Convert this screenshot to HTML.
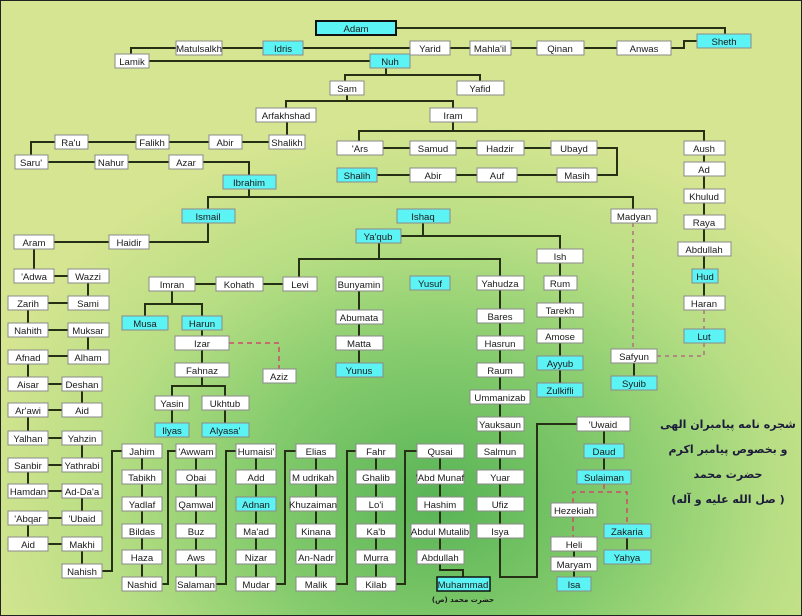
<!DOCTYPE html>
<html><head><meta charset="utf-8"><style>
html,body{margin:0;padding:0}
body{width:802px;height:616px;overflow:hidden;position:relative;
background:radial-gradient(ellipse 480px 380px at 440px 500px,#58b455 0%,#86cc6e 40%,#b8de84 70%,#d6e591 100%);}
svg{position:absolute;left:0;top:0}
.b rect{fill:#fff;stroke:#8a8a8a;stroke-width:1}
.b rect.c{fill:#5cf3f4}
.b text{font-family:"Liberation Sans",sans-serif;font-size:9.6px;fill:#1a1a1a;text-anchor:middle}
.fa{position:absolute;left:652px;top:412px;width:152px;text-align:center;font-family:"DejaVu Sans",sans-serif;font-weight:bold;font-size:11px;line-height:25px;color:#1c1c3a;direction:rtl;white-space:nowrap}
</style></head><body>
<svg width="802" height="616" viewBox="0 0 802 616">
<rect x="0.5" y="0.5" width="801" height="615" fill="none" stroke="#222" stroke-width="1"/>
<g fill="none" stroke="#263014" stroke-width="2">
<path d="M396 28H725V34"/>
<path d="M697 41H684V48H131V54"/>
<path d="M149 61H370"/>
<path d="M386 68V75M345 81V75H480V81"/>
<path d="M347 95V101M286 108V101H453V108"/>
<path d="M287 122V135M269 142H31V155"/>
<path d="M48 162H249V175"/>
<path d="M453 122V131M359 141V131H704V141"/>
<path d="M383 148H617V175H337"/>
<path d="M704 155V296"/>
<path d="M249 189V197M208 209V197H633V209"/>
<path d="M634 363V376"/>
<path d="M208 223V242H54"/>
<path d="M34 249V276H88V303H28V330H88V356H28V384H82V410H28V438H82V465H28V491H82V518H28V544H82V571H112V451H122"/>
<path d="M423 223V236M401 236H560V249"/>
<path d="M379 243V259M299 277V259H500V276"/>
<path d="M283 284H195"/>
<path d="M172 291V304M145 316V304H202V316M202 330V363M202 377V386M172 396V386H225V396M172 410V423M225 410V423"/>
<path d="M359 291V363"/>
<path d="M500 290V577H537V424H577"/>
<path d="M560 263V383"/>
<path d="M604 431V484"/>
<path d="M574 551V577M627 538V550"/>
<path d="M142 458V577M162 584H168V451H176"/>
<path d="M196 458V577M216 584H226V451H236"/>
<path d="M256 458V577M276 584H285V451H296"/>
<path d="M316 458V577M336 584H347V451H356"/>
<path d="M376 458V577M396 584H405V451H417"/>
<path d="M440 458V570H463V577"/>
</g>
<g fill="none" stroke="#d04a6a" stroke-width="1.5" stroke-dasharray="5,4">
<path d="M229 343H279V369"/>
<path d="M604 484V492M573 503V492H627V524M573 517V537"/>
</g>
<g fill="none" stroke="#b07080" stroke-width="1.5" stroke-dasharray="4,4">
<path d="M704 310V329M657 356H704V343"/>
<path d="M633 223V349"/>
</g>
<g class="b">
<rect x="316" y="21" width="80" height="14" class="c" style="stroke:#111;stroke-width:2"/><text x="356" y="32">Adam</text>
<rect x="176" y="41" width="46" height="14"/><text x="199" y="52">Matulsalkh</text>
<rect x="263" y="41" width="40" height="14" class="c"/><text x="283" y="52">Idris</text>
<rect x="115" y="54" width="34" height="14"/><text x="132" y="65">Lamik</text>
<rect x="370" y="54" width="40" height="14" class="c"/><text x="390" y="65">Nuh</text>
<rect x="410" y="41" width="40" height="14"/><text x="430" y="52">Yarid</text>
<rect x="470" y="41" width="41" height="14"/><text x="490" y="52">Mahla'il</text>
<rect x="537" y="41" width="47" height="14"/><text x="560" y="52">Qinan</text>
<rect x="617" y="41" width="54" height="14"/><text x="644" y="52">Anwas</text>
<rect x="697" y="34" width="54" height="14" class="c"/><text x="724" y="45">Sheth</text>
<rect x="330" y="81" width="34" height="14"/><text x="347" y="92">Sam</text>
<rect x="457" y="81" width="47" height="14"/><text x="480" y="92">Yafid</text>
<rect x="256" y="108" width="60" height="14"/><text x="286" y="119">Arfakhshad</text>
<rect x="430" y="108" width="47" height="14"/><text x="453" y="119">Iram</text>
<rect x="55" y="135" width="33" height="14"/><text x="71" y="146">Ra'u</text>
<rect x="136" y="135" width="33" height="14"/><text x="152" y="146">Falikh</text>
<rect x="209" y="135" width="33" height="14"/><text x="225" y="146">Abir</text>
<rect x="269" y="135" width="36" height="14"/><text x="287" y="146">Shalikh</text>
<rect x="15" y="155" width="33" height="14"/><text x="31" y="166">Saru'</text>
<rect x="95" y="155" width="33" height="14"/><text x="111" y="166">Nahur</text>
<rect x="169" y="155" width="34" height="14"/><text x="186" y="166">Azar</text>
<rect x="223" y="175" width="53" height="14" class="c"/><text x="249" y="186">Ibrahim</text>
<rect x="337" y="141" width="46" height="14"/><text x="360" y="152">'Ars</text>
<rect x="410" y="141" width="46" height="14"/><text x="433" y="152">Samud</text>
<rect x="477" y="141" width="47" height="14"/><text x="500" y="152">Hadzir</text>
<rect x="551" y="141" width="46" height="14"/><text x="574" y="152">Ubayd</text>
<rect x="337" y="168" width="40" height="14" class="c"/><text x="357" y="179">Shalih</text>
<rect x="410" y="168" width="46" height="14"/><text x="433" y="179">Abir</text>
<rect x="477" y="168" width="40" height="14"/><text x="497" y="179">Auf</text>
<rect x="557" y="168" width="40" height="14"/><text x="577" y="179">Masih</text>
<rect x="684" y="141" width="41" height="14"/><text x="704" y="152">Aush</text>
<rect x="684" y="162" width="41" height="14"/><text x="704" y="173">Ad</text>
<rect x="684" y="189" width="41" height="14"/><text x="704" y="200">Khulud</text>
<rect x="684" y="215" width="41" height="14"/><text x="704" y="226">Raya</text>
<rect x="678" y="242" width="53" height="14"/><text x="704" y="253">Abdullah</text>
<rect x="692" y="269" width="26" height="14" class="c"/><text x="705" y="280">Hud</text>
<rect x="684" y="296" width="41" height="14"/><text x="704" y="307">Haran</text>
<rect x="684" y="329" width="41" height="14" class="c"/><text x="704" y="340">Lut</text>
<rect x="611" y="209" width="46" height="14"/><text x="634" y="220">Madyan</text>
<rect x="611" y="349" width="46" height="14"/><text x="634" y="360">Safyun</text>
<rect x="611" y="376" width="46" height="14" class="c"/><text x="634" y="387">Syuib</text>
<rect x="182" y="209" width="53" height="14" class="c"/><text x="208" y="220">Ismail</text>
<rect x="397" y="209" width="53" height="14" class="c"/><text x="423" y="220">Ishaq</text>
<rect x="14" y="235" width="40" height="14"/><text x="34" y="246">Aram</text>
<rect x="109" y="235" width="40" height="14"/><text x="129" y="246">Haidir</text>
<rect x="356" y="229" width="45" height="14" class="c"/><text x="378" y="240">Ya'qub</text>
<rect x="537" y="249" width="46" height="14"/><text x="560" y="260">Ish</text>
<rect x="149" y="277" width="46" height="14"/><text x="172" y="288">Imran</text>
<rect x="216" y="277" width="47" height="14"/><text x="239" y="288">Kohath</text>
<rect x="283" y="277" width="34" height="14"/><text x="300" y="288">Levi</text>
<rect x="336" y="277" width="47" height="14"/><text x="359" y="288">Bunyamin</text>
<rect x="410" y="276" width="40" height="14" class="c"/><text x="430" y="287">Yusuf</text>
<rect x="477" y="276" width="47" height="14"/><text x="500" y="287">Yahudza</text>
<rect x="122" y="316" width="46" height="14" class="c"/><text x="145" y="327">Musa</text>
<rect x="182" y="316" width="40" height="14" class="c"/><text x="202" y="327">Harun</text>
<rect x="175" y="336" width="54" height="14"/><text x="202" y="347">Izar</text>
<rect x="263" y="369" width="33" height="14"/><text x="279" y="380">Aziz</text>
<rect x="175" y="363" width="54" height="14"/><text x="202" y="374">Fahnaz</text>
<rect x="155" y="396" width="34" height="14"/><text x="172" y="407">Yasin</text>
<rect x="202" y="396" width="47" height="14"/><text x="225" y="407">Ukhtub</text>
<rect x="155" y="423" width="34" height="14" class="c"/><text x="172" y="434">Ilyas</text>
<rect x="202" y="423" width="47" height="14" class="c"/><text x="225" y="434">Alyasa'</text>
<rect x="336" y="310" width="47" height="14"/><text x="359" y="321">Abumata</text>
<rect x="336" y="336" width="47" height="14"/><text x="359" y="347">Matta</text>
<rect x="336" y="363" width="47" height="14" class="c"/><text x="359" y="374">Yunus</text>
<rect x="544" y="276" width="33" height="14"/><text x="560" y="287">Rum</text>
<rect x="537" y="303" width="46" height="14"/><text x="560" y="314">Tarekh</text>
<rect x="537" y="329" width="46" height="14"/><text x="560" y="340">Amose</text>
<rect x="537" y="356" width="46" height="14" class="c"/><text x="560" y="367">Ayyub</text>
<rect x="537" y="383" width="46" height="14" class="c"/><text x="560" y="394">Zulkifli</text>
<rect x="477" y="309" width="47" height="14"/><text x="500" y="320">Bares</text>
<rect x="477" y="336" width="47" height="14"/><text x="500" y="347">Hasrun</text>
<rect x="477" y="363" width="47" height="14"/><text x="500" y="374">Raum</text>
<rect x="470" y="390" width="60" height="14"/><text x="500" y="401">Ummanizab</text>
<rect x="477" y="417" width="47" height="14"/><text x="500" y="428">Yauksaun</text>
<rect x="477" y="444" width="47" height="14"/><text x="500" y="455">Salmun</text>
<rect x="477" y="470" width="47" height="14"/><text x="500" y="481">Yuar</text>
<rect x="477" y="497" width="47" height="14"/><text x="500" y="508">Ufiz</text>
<rect x="477" y="524" width="47" height="14"/><text x="500" y="535">Isya</text>
<rect x="577" y="417" width="53" height="14"/><text x="603" y="428">'Uwaid</text>
<rect x="584" y="444" width="40" height="14" class="c"/><text x="604" y="455">Daud</text>
<rect x="577" y="470" width="54" height="14" class="c"/><text x="604" y="481">Sulaiman</text>
<rect x="551" y="503" width="46" height="14"/><text x="574" y="514">Hezekiah</text>
<rect x="551" y="537" width="46" height="14"/><text x="574" y="548">Heli</text>
<rect x="551" y="557" width="46" height="14"/><text x="574" y="568">Maryam</text>
<rect x="557" y="577" width="34" height="14" class="c"/><text x="574" y="588">Isa</text>
<rect x="604" y="524" width="47" height="14" class="c"/><text x="627" y="535">Zakaria</text>
<rect x="604" y="550" width="47" height="14" class="c"/><text x="627" y="561">Yahya</text>
<rect x="14" y="269" width="40" height="14"/><text x="34" y="280">'Adwa</text>
<rect x="68" y="269" width="41" height="14"/><text x="88" y="280">Wazzi</text>
<rect x="8" y="296" width="40" height="14"/><text x="28" y="307">Zarih</text>
<rect x="68" y="296" width="41" height="14"/><text x="88" y="307">Sami</text>
<rect x="8" y="323" width="40" height="14"/><text x="28" y="334">Nahith</text>
<rect x="68" y="323" width="41" height="14"/><text x="88" y="334">Muksar</text>
<rect x="8" y="350" width="40" height="14"/><text x="28" y="361">Afnad</text>
<rect x="68" y="350" width="41" height="14"/><text x="88" y="361">Alham</text>
<rect x="8" y="377" width="40" height="14"/><text x="28" y="388">Aisar</text>
<rect x="62" y="377" width="40" height="14"/><text x="82" y="388">Deshan</text>
<rect x="8" y="403" width="40" height="14"/><text x="28" y="414">Ar'awi</text>
<rect x="62" y="403" width="40" height="14"/><text x="82" y="414">Aid</text>
<rect x="8" y="431" width="40" height="14"/><text x="28" y="442">Yalhan</text>
<rect x="62" y="431" width="40" height="14"/><text x="82" y="442">Yahzin</text>
<rect x="8" y="458" width="40" height="14"/><text x="28" y="469">Sanbir</text>
<rect x="62" y="458" width="40" height="14"/><text x="82" y="469">Yathrabi</text>
<rect x="8" y="484" width="40" height="14"/><text x="28" y="495">Hamdan</text>
<rect x="62" y="484" width="40" height="14"/><text x="82" y="495">Ad-Da'a</text>
<rect x="8" y="511" width="40" height="14"/><text x="28" y="522">'Abqar</text>
<rect x="62" y="511" width="40" height="14"/><text x="82" y="522">'Ubaid</text>
<rect x="8" y="537" width="40" height="14"/><text x="28" y="548">Aid</text>
<rect x="62" y="537" width="40" height="14"/><text x="82" y="548">Makhi</text>
<rect x="62" y="564" width="40" height="14"/><text x="82" y="575">Nahish</text>
<rect x="122" y="444" width="40" height="14"/><text x="142" y="455">Jahim</text>
<rect x="122" y="470" width="40" height="14"/><text x="142" y="481">Tabikh</text>
<rect x="122" y="497" width="40" height="14"/><text x="142" y="508">Yadlaf</text>
<rect x="122" y="524" width="40" height="14"/><text x="142" y="535">Bildas</text>
<rect x="122" y="550" width="40" height="14"/><text x="142" y="561">Haza</text>
<rect x="122" y="577" width="40" height="14"/><text x="142" y="588">Nashid</text>
<rect x="176" y="444" width="40" height="14"/><text x="196" y="455">'Awwam</text>
<rect x="176" y="470" width="40" height="14"/><text x="196" y="481">Obai</text>
<rect x="176" y="497" width="40" height="14"/><text x="196" y="508">Qamwal</text>
<rect x="176" y="524" width="40" height="14"/><text x="196" y="535">Buz</text>
<rect x="176" y="550" width="40" height="14"/><text x="196" y="561">Aws</text>
<rect x="176" y="577" width="40" height="14"/><text x="196" y="588">Salaman</text>
<rect x="236" y="444" width="40" height="14"/><text x="256" y="455">Humaisi'</text>
<rect x="236" y="470" width="40" height="14"/><text x="256" y="481">Add</text>
<rect x="236" y="497" width="40" height="14" class="c"/><text x="256" y="508">Adnan</text>
<rect x="236" y="524" width="40" height="14"/><text x="256" y="535">Ma'ad</text>
<rect x="236" y="550" width="40" height="14"/><text x="256" y="561">Nizar</text>
<rect x="236" y="577" width="40" height="14"/><text x="256" y="588">Mudar</text>
<rect x="296" y="444" width="40" height="14"/><text x="316" y="455">Elias</text>
<rect x="290" y="470" width="47" height="14"/><text x="313" y="481">M udrikah</text>
<rect x="290" y="497" width="47" height="14"/><text x="313" y="508">Khuzaiman</text>
<rect x="296" y="524" width="40" height="14"/><text x="316" y="535">Kinana</text>
<rect x="296" y="550" width="40" height="14"/><text x="316" y="561">An-Nadr</text>
<rect x="296" y="577" width="40" height="14"/><text x="316" y="588">Malik</text>
<rect x="356" y="444" width="40" height="14"/><text x="376" y="455">Fahr</text>
<rect x="356" y="470" width="40" height="14"/><text x="376" y="481">Ghalib</text>
<rect x="356" y="497" width="40" height="14"/><text x="376" y="508">Lo'i</text>
<rect x="356" y="524" width="40" height="14"/><text x="376" y="535">Ka'b</text>
<rect x="356" y="550" width="40" height="14"/><text x="376" y="561">Murra</text>
<rect x="356" y="577" width="40" height="14"/><text x="376" y="588">Kilab</text>
<rect x="417" y="444" width="47" height="14"/><text x="440" y="455">Qusai</text>
<rect x="417" y="470" width="47" height="14"/><text x="440" y="481">'Abd Munaf</text>
<rect x="417" y="497" width="47" height="14"/><text x="440" y="508">Hashim</text>
<rect x="411" y="524" width="59" height="14"/><text x="440" y="535">Abdul Mutalib</text>
<rect x="417" y="550" width="47" height="14"/><text x="440" y="561">Abdullah</text>
<rect x="437" y="577" width="53" height="14" class="c" style="stroke:#111;stroke-width:1.5"/><text x="463" y="588">Muhammad</text>
</g>
<text x="463" y="602" font-family="DejaVu Sans,sans-serif" font-size="7" font-weight="bold" text-anchor="middle" fill="#1a1a1a" direction="rtl">حضرت محمد (ص)</text>
</svg>
<div class="fa">شجره نامه پیامبران الهی<br>و بخصوص پیامبر اکرم<br>حضرت محمد<br>( صل الله علیه و آله)</div>
</body></html>
